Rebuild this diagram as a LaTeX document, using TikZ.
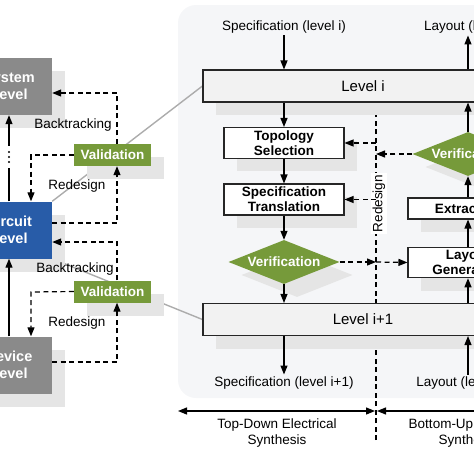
\documentclass[tikz,border=0pt]{standalone}
\usepackage{fontspec}
\setmainfont{Liberation Sans}
\usepackage{tikz}
\usetikzlibrary{arrows.meta,positioning,calc,shapes.geometric,shadows,backgrounds}

\definecolor{lvlgray}{RGB}{138,138,138}
\definecolor{circblue}{RGB}{40,92,168}
\definecolor{valgreen}{RGB}{118,154,58}
\definecolor{panelbg}{RGB}{245,246,248}
\definecolor{barfill}{RGB}{242,242,242}
\definecolor{shadowgray}{RGB}{229,229,229}
\definecolor{zoomgray}{RGB}{172,172,172}

\begin{document}
\begin{tikzpicture}[
  x=1pt, y=-1pt,
  font=\fontsize{13.5}{16}\selectfont, >={Triangle[length=9pt,width=7pt]},
  dropsh/.style={drop shadow={shadow xshift=13pt, shadow yshift=-13pt, fill=shadowgray, opacity=1}},
  level/.style={dropsh, minimum width=86pt, minimum height=57pt, inner sep=0pt, align=center, text=white, font=\fontsize{14.5}{17}\selectfont\bfseries},
  valid/.style={dropsh, fill=valgreen, text=white, minimum width=77pt, minimum height=22pt, inner sep=0pt, font=\fontsize{13.5}{16}\selectfont\bfseries},
  bar/.style={dropsh, draw=black!85, fill=barfill, line width=1.1pt, minimum width=320pt, minimum height=32pt, font=\fontsize{15}{18}\selectfont},
  stage/.style={dropsh, draw=black!85, fill=white, line width=1.1pt, minimum width=120pt, inner ysep=3pt, align=center, font=\fontsize{13.5}{15}\selectfont\bfseries},
  check/.style={dropsh, diamond, aspect=2.5, fill=valgreen, text=white, minimum width=111pt, minimum height=44pt, inner sep=0pt, font=\fontsize{13.5}{16}\selectfont\bfseries},
  io/.style={align=center, inner sep=2pt},
  flow/.style={->, line width=1.2pt},
  back/.style={->, line width=1.2pt, dash pattern=on 5pt off 3.5pt},
  zoom/.style={line width=1.4pt, zoomgray},
]
\useasboundingbox (0,0) rectangle (474,474);

% ---------------- hierarchy levels (left) ----------------
\node[level, fill=lvlgray] (sys) at (9,86.5) {System\\Level};
\node[level, fill=circblue] (cir) at (9,230) {Circuit\\Level};
\node[level, fill=lvlgray] (dev) at (9,365) {Device\\Level};
\node[valid] (val1) at (112.5,155) {Validation};
\node[valid] (val2) at (112.5,291.5) {Validation};

\node[inner sep=0pt, minimum height=22pt] (gap) at (9,157) {};
\draw[line width=1.2pt] (cir.north) -- (gap.south);
\draw[flow] (gap.north) -- (sys.south);
\foreach \d in {-5,0,5} \fill ([yshift=\d pt]gap.center) circle (1.1pt);
\draw[flow] (dev.north) -- (cir.south);

\coordinate (bt1) at (117,93);
\coordinate (rd1) at (31,155);
\coordinate (up1) at (117,223);
\coordinate (bt2) at (117,242);
\coordinate (rd2) at (31,292);
\coordinate (up2) at (117,362);
\draw[back] (val1.north -| bt1) -- (bt1) -- (bt1 -| sys.east);
\draw[back] (val1.west) -- (rd1) -- (rd1 |- cir.north);
\draw[back] (up1 -| cir.east) -- (up1) -- (up1 |- val1.south);
\draw[back] (val2.north -| bt2) -- (bt2) -- (bt2 -| cir.east);
\draw[back] (val2.west) -- (rd2) -- (rd2 |- dev.north);
\draw[back] (up2 -| dev.east) -- (up2) -- (up2 |- val2.south);
\node (bk1) at (73,125) {Backtracking};
\node (rs1) at (77,186) {Redesign};
\node (bk2) at (75,269) {Backtracking};
\node (rs2) at (77,323) {Redesign};

% ---------------- synthesis of one level (right) ----------------
\node[bar] (lvi) at (363,86) {Level i};
\node[bar] (lvii) at (363,319.5) {Level i+1};
\node[stage] (topo) at (284,143) {Topology\\Selection};
\node[stage] (trans) at (284,199.5) {Specification\\Translation};
\node[check] (ver1) at (284,262) {Verification};
\node[io] (spi) at (284,27) {Specification (level i)};
\node[io] (spii) at (284,383) {Specification (level i+1)};

\node[stage] (lay) at (468,262.5) {Layout\\Generation};
\node[stage, minimum height=21pt] (ext) at (468,208.5) {Extraction};
\node[check] (ver2) at (468,154) {Verification};
\node[io] (lai) at (468,27) {Layout (level i)};
\node[io] (laii) at (468,383) {Layout (level i+1)};

\draw[flow] (spi) -- (spi |- lvi.north);
\draw[flow] (lvi.south -| topo) -- (topo);
\draw[flow] (topo) -- (trans);
\draw[flow] (trans) -- (ver1);
\draw[flow] (ver1) -- (ver1 |- lvii.north);
\draw[flow] (lvii.south -| spii) -- (spii);

\draw[flow] (lvii.north -| lay) -- (lay);
\draw[flow] (lay) -- (ext);
\draw[flow] (ext) -- (ver2);
\draw[flow] (ver2) -- (ver2 |- lvi.south);
\draw[flow] (lvi.north -| lai) -- (lai);
\draw[flow] (laii) -- (laii |- lvii.south);

\coordinate (rd) at (376,440);
\node[rotate=90, fill=white, inner sep=1.5pt] (rdl) at (379,203.5) {Redesign};
\draw[back] (topo.east -| rd) -- (topo.east);
\draw[back] (trans.east -| rd) -- (trans.east);
\draw[back] (ver2.west) -- (ver2.west -| rd);
\draw[back] (ver1.east) -- (ver1.east -| rd);
\draw[back] (ver1.east -| rd) -- (lay.west);

\coordinate (tdl) at (178,411);
\coordinate (bur) at (600,411);
\draw[<->, line width=1.2pt] (tdl) -- ([xshift=-1pt]tdl -| rd);
\draw[<->, line width=1.2pt] ([xshift=1pt]tdl -| rd) -- (bur);
\node[io] (td) at (277,433) {Top-Down Electrical\\Synthesis};
\node[io] (bu) at (468,433) {Bottom-Up Physical\\Synthesis};

\begin{scope}[on background layer]
\fill[panelbg, rounded corners=18pt] (178,5) rectangle (620,398);
\draw[zoom] (cir.north east) -- (lvi.west);
\draw[zoom] (cir.south east) -- (lvii.west);
\draw[back] (rd) -- (rd |- lvi.south);
\end{scope}
\end{tikzpicture}
\end{document}
